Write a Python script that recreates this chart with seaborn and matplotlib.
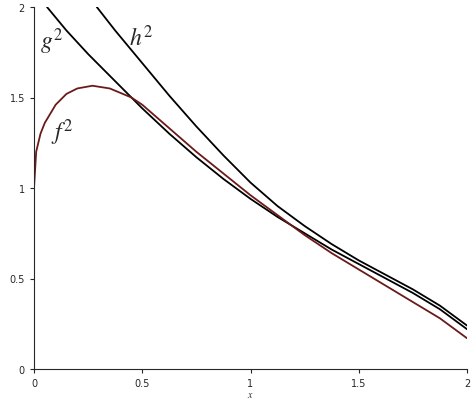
import matplotlib
matplotlib.use("Agg")
import matplotlib.pyplot as plt
import seaborn as sns

g_x = [0.06, 0.15, 0.25, 0.375, 0.5, 0.625, 0.75, 0.875, 1.0, 1.125, 1.25, 1.375, 1.5, 1.625, 1.75, 1.875, 2.0]
g_y = [2.0, 1.87, 1.74, 1.59, 1.44, 1.30, 1.17, 1.05, 0.94, 0.84, 0.75, 0.66, 0.58, 0.50, 0.42, 0.33, 0.22]
h_x = [0.29, 0.375, 0.5, 0.625, 0.75, 0.875, 1.0, 1.125, 1.25, 1.375, 1.5, 1.625, 1.75, 1.875, 2.0]
h_y = [2.0, 1.87, 1.69, 1.51, 1.34, 1.18, 1.03, 0.90, 0.79, 0.69, 0.60, 0.52, 0.44, 0.35, 0.24]
f_x = [0.0, 0.01, 0.03, 0.05, 0.1, 0.15, 0.2, 0.27, 0.35, 0.45, 0.5, 0.625, 0.75, 0.875, 1.0, 1.125, 1.25, 1.375, 1.5, 1.625, 1.75, 1.875, 2.0]
f_y = [1.0, 1.2, 1.3, 1.36, 1.46, 1.52, 1.55, 1.565, 1.55, 1.50, 1.46, 1.33, 1.20, 1.08, 0.96, 0.85, 0.74, 0.64, 0.55, 0.46, 0.37, 0.28, 0.17]

sns.set_style("ticks")
plt.rcParams["mathtext.fontset"] = "stix"
fig = plt.figure(figsize=(4.74, 4.02), dpi=100)
ax = fig.add_axes([34/474, 32/402, 433/474, 362/402])
sns.lineplot(x=g_x, y=g_y, ax=ax, color="black", lw=1.3)
sns.lineplot(x=h_x, y=h_y, ax=ax, color="black", lw=1.3)
sns.lineplot(x=f_x, y=f_y, ax=ax, color="#6b1a1a", lw=1.3)
ax.set_xlim(0, 2); ax.set_ylim(0, 2)
ax.set_xticks([0, 0.5, 1, 1.5, 2]); ax.set_xticklabels(["0", "0.5", "1", "1.5", "2"])
ax.set_yticks([0, 0.5, 1, 1.5, 2]); ax.set_yticklabels(["0", "0.5", "1", "1.5", "2"])
ax.tick_params(labelsize=7, length=3)
sns.despine(ax=ax)
ax.set_xlabel("$x$", fontsize=7, labelpad=1)
ax.text(0.03, 1.77, "$g^2$", fontsize=17)
ax.text(0.44, 1.79, "$h^2$", fontsize=17)
ax.text(0.08, 1.27, "$f^2$", fontsize=17)
fig.savefig("out.png", dpi=100)
